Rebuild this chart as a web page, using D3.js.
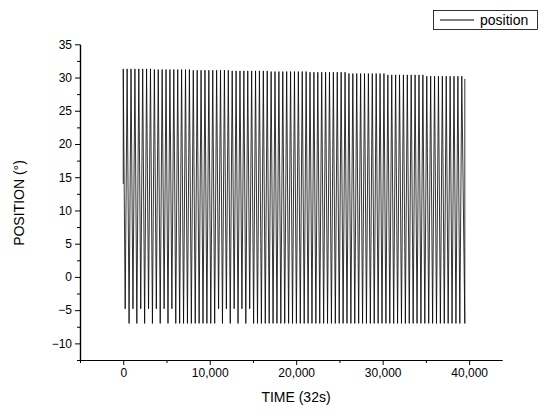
<!DOCTYPE html>
<html><head><meta charset="utf-8">
<script src="https://cdn.jsdelivr.net/npm/d3@7"></script>
<style>body{margin:0;background:#fff}text{font-family:"Liberation Sans",Arial,sans-serif}</style>
</head><body><svg id="c" width="550" height="418"></svg>
<script>
const peakTimes=[0,450,900,1350,1800,2250,2700,3150,3600,4050,4500,4950,5400,5850,6300,6750,7200,7650,8100,8550,9000,9450,9900,10350,10800,11250,11700,12150,12600,13050,13500,13950,14400,14850,15300,15750,16200,16650,17100,17550,18000,18450,18900,19350,19800,20250,20700,21150,21600,22050,22500,22950,23400,23850,24300,24750,25200,25650,26100,26550,27000,27450,27900,28350,28800,29250,29700,30150,30600,31050,31500,31950,32400,32850,33300,33750,34200,34650,35100,35550,36000,36450,36900,37350,37800,38250,38700,39150];
const peakValues=[31.3,31.3,31.3,31.3,31.3,31.3,31.3,31.3,31.2,31.2,31.2,31.2,31.2,31.2,31.2,31.2,31.2,31.2,31.1,31.1,31.1,31.1,31.1,31.1,31.1,31.1,31.1,31.1,31.0,31.0,31.0,31.0,31.0,31.0,31.0,31.0,31.0,31.0,30.9,30.9,30.9,30.9,30.9,30.9,30.9,30.9,30.9,30.9,30.8,30.8,30.8,30.8,30.8,30.8,30.8,30.8,30.8,30.8,30.6,30.6,30.6,30.6,30.6,30.6,30.6,30.6,30.6,30.6,30.4,30.4,30.4,30.4,30.4,30.4,30.4,30.4,30.4,30.4,30.2,30.2,30.2,30.2,30.2,30.2,30.2,30.2,30.2,30.2];
const troughValues=[-4.8,-7,-4.8,-7,-4.8,-7,-4.8,-7,-4.8,-7,-4.8,-7,-4.8,-7,-7,-7,-7,-7,-7,-7,-7,-7,-7,-7,-4.8,-7,-4.8,-7,-4.8,-7,-4.8,-7,-4.8,-7,-7,-7,-7,-7,-7,-7,-7,-7,-7,-7,-7,-7,-7,-7,-7,-7,-7,-7,-7,-7,-7,-7,-7,-7,-7,-7,-7,-7,-7,-7,-7,-7,-7,-7,-7,-7,-7,-7,-7,-7,-7,-7,-7,-7,-7,-7,-7,-7,-7,-7,-7,-7,-7,-7];
const startPoint=[0,14];
const endTime=39500;
const xTicks=[0,10000,20000,30000,40000];
const yTicks=[-10,-5,0,5,10,15,20,25,30,35];

const svg=d3.select("#c");
const x=d3.scaleLinear().domain([-5000,43800]).range([80,502]);
const y=d3.scaleLinear().domain([-12.5,35]).range([360,44.3]);
const pts=[startPoint];
peakTimes.forEach((t,i)=>{
  pts.push([t,peakValues[i]]);
  const nt=i+1<peakTimes.length?peakTimes[i+1]:endTime*2-t;
  pts.push([(t+Math.min(nt,endTime*2))/2,troughValues[i]]);
});
pts.push([endTime,29.8]);
svg.append("path").attr("d",d3.line().x(d=>x(d[0])).y(d=>y(d[1]))(pts))
  .attr("fill","none").attr("stroke","#000").attr("stroke-width",0.8);

const xa=svg.append("g").attr("transform","translate(0,360)")
  .call(d3.axisBottom(x).tickValues(xTicks).tickFormat(d3.format(",")).tickSize(5).tickSizeOuter(0));
svg.append("g").attr("transform","translate(0,360)")
  .call(d3.axisBottom(x).tickValues([-5000,5000,15000,25000,35000]).tickFormat("").tickSize(3).tickSizeOuter(0));
const ya=svg.append("g").attr("transform","translate(80,0)")
  .call(d3.axisLeft(y).tickValues(yTicks).tickSize(5).tickSizeOuter(0));
svg.append("g").attr("transform","translate(80,0)")
  .call(d3.axisLeft(y).tickValues(yTicks.map(v=>v-2.5)).tickFormat("").tickSize(3).tickSizeOuter(0));
svg.selectAll(".domain").attr("stroke","#000").attr("stroke-width",1.2);
svg.selectAll(".tick text").attr("font-size",12).attr("fill","#000").attr("font-family","Liberation Sans, Arial");
svg.selectAll(".tick line").attr("stroke","#000");

svg.append("text").attr("x",296).attr("y",402).attr("text-anchor","middle").attr("font-size",14).text("TIME (32s)");
svg.append("text").attr("transform","translate(24,203) rotate(-90)").attr("text-anchor","middle").attr("font-size",14).text("POSITION (°)");

svg.append("rect").attr("x",433.5).attr("y",10.5).attr("width",104).attr("height",19).attr("fill","#fff").attr("stroke","#000").attr("stroke-width",0.8);
svg.append("line").attr("x1",440).attr("x2",474).attr("y1",20).attr("y2",20).attr("stroke","#000");
svg.append("text").attr("x",480).attr("y",25).attr("font-size",14).text("position");
</script></body></html>
